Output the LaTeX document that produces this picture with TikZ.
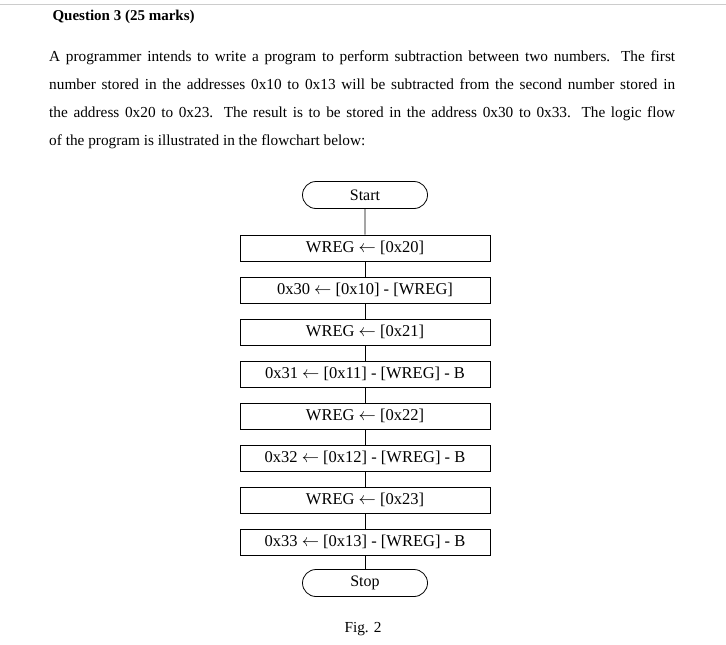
\documentclass[tikz,border=0pt]{standalone}
\usepackage{fontspec}
\setmainfont{Liberation Serif}
\usetikzlibrary{shapes.misc}
\tikzset{
  stepbox/.style={draw,thick,minimum width=250pt,minimum height=26pt,inner sep=0pt,font=\fontsize{16.5}{18}\selectfont},
  termbox/.style={draw,thick,rounded rectangle,minimum width=125pt,minimum height=27pt,inner sep=0pt,font=\fontsize{16}{18}\selectfont},
}
\begin{document}
\begin{tikzpicture}[x=1pt,y=-1pt]
\useasboundingbox (0,0) rectangle (726,645);
\draw[gray!40] (0,4) -- (726,4);
\node[anchor=west,font=\bfseries\fontsize{15}{16}\selectfont] (title) at (49,17) {Question 3 (25 marks)};
\node[anchor=north west,inner sep=0pt,text width=626pt,align=justify,font=\fontsize{15.3}{28}\selectfont] (para) at (49,51)
{A programmer intends to write a program to perform subtraction between two numbers. The first\linebreak number stored in the addresses 0x10 to 0x13 will be subtracted from the second number stored in\linebreak the address 0x20 to 0x23. The result is to be stored in the address 0x30 to 0x33. The logic flow\linebreak of the program is illustrated in the flowchart below:};

\node[termbox] (start) at (365,195) {Start};
\node[stepbox] (s1) at (365,248) {WREG $\leftarrow$ [0x20]};
\node[stepbox] (s2) at (365,290) {0x30 $\leftarrow$ [0x10] - [WREG]};
\node[stepbox] (s3) at (365,332) {WREG $\leftarrow$ [0x21]};
\node[stepbox] (s4) at (365,374) {0x31 $\leftarrow$ [0x11] - [WREG] - B};
\node[stepbox] (s5) at (365,416) {WREG $\leftarrow$ [0x22]};
\node[stepbox] (s6) at (365,458) {0x32 $\leftarrow$ [0x12] - [WREG] - B};
\node[stepbox] (s7) at (365,500) {WREG $\leftarrow$ [0x23]};
\node[stepbox] (s8) at (365,542) {0x33 $\leftarrow$ [0x13] - [WREG] - B};
\node[termbox] (stop) at (365,583) {Stop};

\draw[thick] (start) -- (s1);
\draw[thick] (s1) -- (s2);
\draw[thick] (s2) -- (s3);
\draw[thick] (s3) -- (s4);
\draw[thick] (s4) -- (s5);
\draw[thick] (s5) -- (s6);
\draw[thick] (s6) -- (s7);
\draw[thick] (s7) -- (s8);
\draw[thick] (s8) -- (stop);

\node[font=\fontsize{15.3}{16}\selectfont] (fig) at (363,629) {Fig. 2};
\end{tikzpicture}
\end{document}
